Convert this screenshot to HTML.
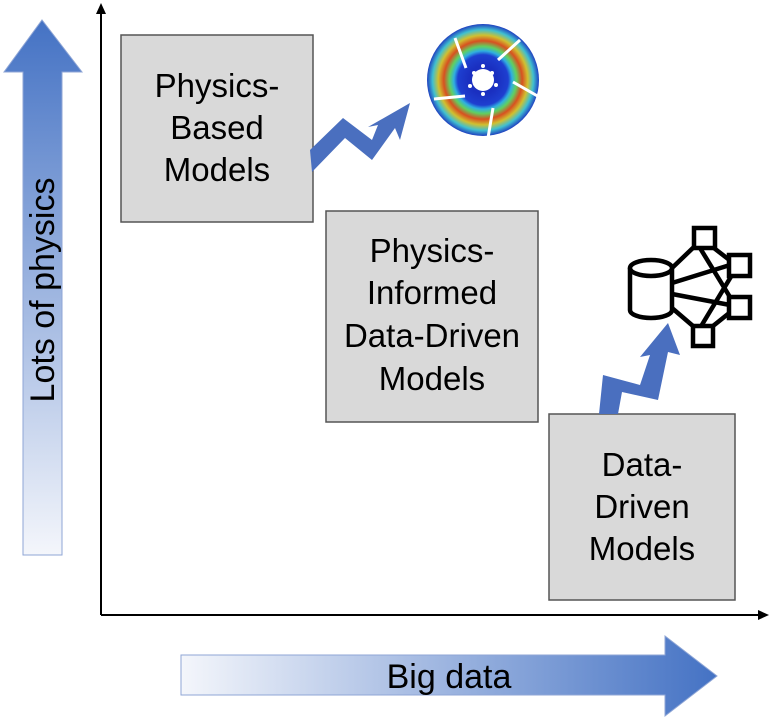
<!DOCTYPE html>
<html><head><meta charset="utf-8"><style>
body{margin:0;background:#fff;}
svg{display:block;}
text{font-family:"Liberation Sans",sans-serif;}
</style></head><body>
<svg width="770" height="718" viewBox="0 0 770 718" xmlns="http://www.w3.org/2000/svg">
<defs>
<linearGradient id="gv" x1="0" y1="0" x2="0" y2="1">
<stop offset="0" stop-color="#4472c4"/><stop offset="1" stop-color="#f4f6fb"/></linearGradient>
<linearGradient id="gh" x1="0" y1="0" x2="1" y2="0">
<stop offset="0" stop-color="#f4f6fb"/><stop offset="1" stop-color="#4472c4"/></linearGradient>
<radialGradient id="disc" cx="0.5" cy="0.5" r="0.5">
<stop offset="0.25" stop-color="#1a2fc0"/>
<stop offset="0.45" stop-color="#1e3fd0"/>
<stop offset="0.52" stop-color="#30b0e0"/>
<stop offset="0.6" stop-color="#60d060"/>
<stop offset="0.7" stop-color="#d85020"/>
<stop offset="0.8" stop-color="#d0c030"/>
<stop offset="0.9" stop-color="#40c0d0"/>
<stop offset="1" stop-color="#2040c0"/>
</radialGradient>
</defs>
<path d="M23,555 L23,72 L4,72 L42,20 L82,72 L62,72 L62,555 Z" fill="url(#gv)" stroke="#8fa6d6" stroke-width="1"/>
<text x="0" y="0" font-size="34" transform="translate(54,290) rotate(-90)" text-anchor="middle">Lots of physics</text>
<path d="M181,655 L665,655 L665,636 L717,676 L665,716 L665,695 L181,695 Z" fill="url(#gh)" stroke="#8fa6d6" stroke-width="1"/>
<text x="449" y="688" font-size="34" text-anchor="middle">Big data</text>
<line x1="101" y1="12" x2="101" y2="615" stroke="#000" stroke-width="2"/>
<path d="M96,14 L101,3 L106,14 Z" fill="#000"/>
<line x1="101" y1="615" x2="760" y2="615" stroke="#000" stroke-width="2"/>
<path d="M758,610 L769,615 L758,620 Z" fill="#000"/>
<g fill="#d9d9d9" stroke="#555" stroke-width="1.5">
<rect x="121" y="35" width="192" height="187"/>
<rect x="326" y="211" width="212" height="211"/>
<rect x="549" y="414" width="186" height="186"/>
</g>
<g font-size="33" text-anchor="middle">
<text x="217" y="97">Physics-</text>
<text x="217" y="139">Based</text>
<text x="217" y="181">Models</text>
<text x="432" y="262">Physics-</text>
<text x="432" y="304">Informed</text>
<text x="432" y="347">Data-Driven</text>
<text x="432" y="390">Models</text>
<text x="642" y="476">Data-</text>
<text x="642" y="518">Driven</text>
<text x="642" y="560">Models</text>
</g>
<path d="M312,172 L310,150 L343,118 L372,140 L378,125 L368,127 L410,103 L400,140 L395,128 L372,160 L345,138 Z" fill="#4a6fbf"/>
<circle cx="483" cy="80" r="56" fill="url(#disc)"/>
<circle cx="483" cy="80" r="11" fill="#fff"/>
<g stroke="#fff" stroke-width="3">
<line x1="455" y1="38" x2="466" y2="68"/>
<line x1="520" y1="40" x2="498" y2="60"/>
<line x1="513" y1="82" x2="541" y2="98"/>
<line x1="434" y1="99" x2="465" y2="96"/>
<line x1="493" y1="108" x2="488" y2="138"/>
</g>
<g fill="#fff">
<circle cx="474" cy="73" r="2"/><circle cx="492" cy="73" r="2"/><circle cx="496" cy="85" r="2"/><circle cx="470" cy="86" r="2"/><circle cx="483" cy="66" r="2"/><circle cx="483" cy="94" r="2"/>
</g>
<path d="M599,414 L603,375 L640,385 L650,355 L640,357 L668,323 L680,355 L668,352 L658,400 L622,392 L618,414 Z" fill="#4a6fbf"/>
<g fill="none" stroke="#000" stroke-width="4.5">
<path d="M630,268 L630,310 A21,8 0 0 0 672,310 L672,268"/>
<ellipse cx="651" cy="268" rx="21" ry="8" fill="#fff"/>
<line x1="672" y1="268" x2="696" y2="245"/>
<line x1="672" y1="283" x2="730" y2="265"/>
<line x1="672" y1="294" x2="730" y2="305"/>
<line x1="672" y1="308" x2="700" y2="332"/>
<line x1="710" y1="245" x2="732" y2="262"/>
<line x1="700" y1="248" x2="733" y2="302"/>
<line x1="708" y1="330" x2="733" y2="310"/>
<line x1="700" y1="328" x2="735" y2="270"/>
</g>
<g fill="#fff" stroke="#000" stroke-width="4.5">
<rect x="694" y="228" width="21" height="20"/>
<rect x="729" y="255" width="21" height="21"/>
<rect x="729" y="297" width="21" height="21"/>
<rect x="693" y="326" width="20" height="20"/>
</g>
</svg>
</body></html>
